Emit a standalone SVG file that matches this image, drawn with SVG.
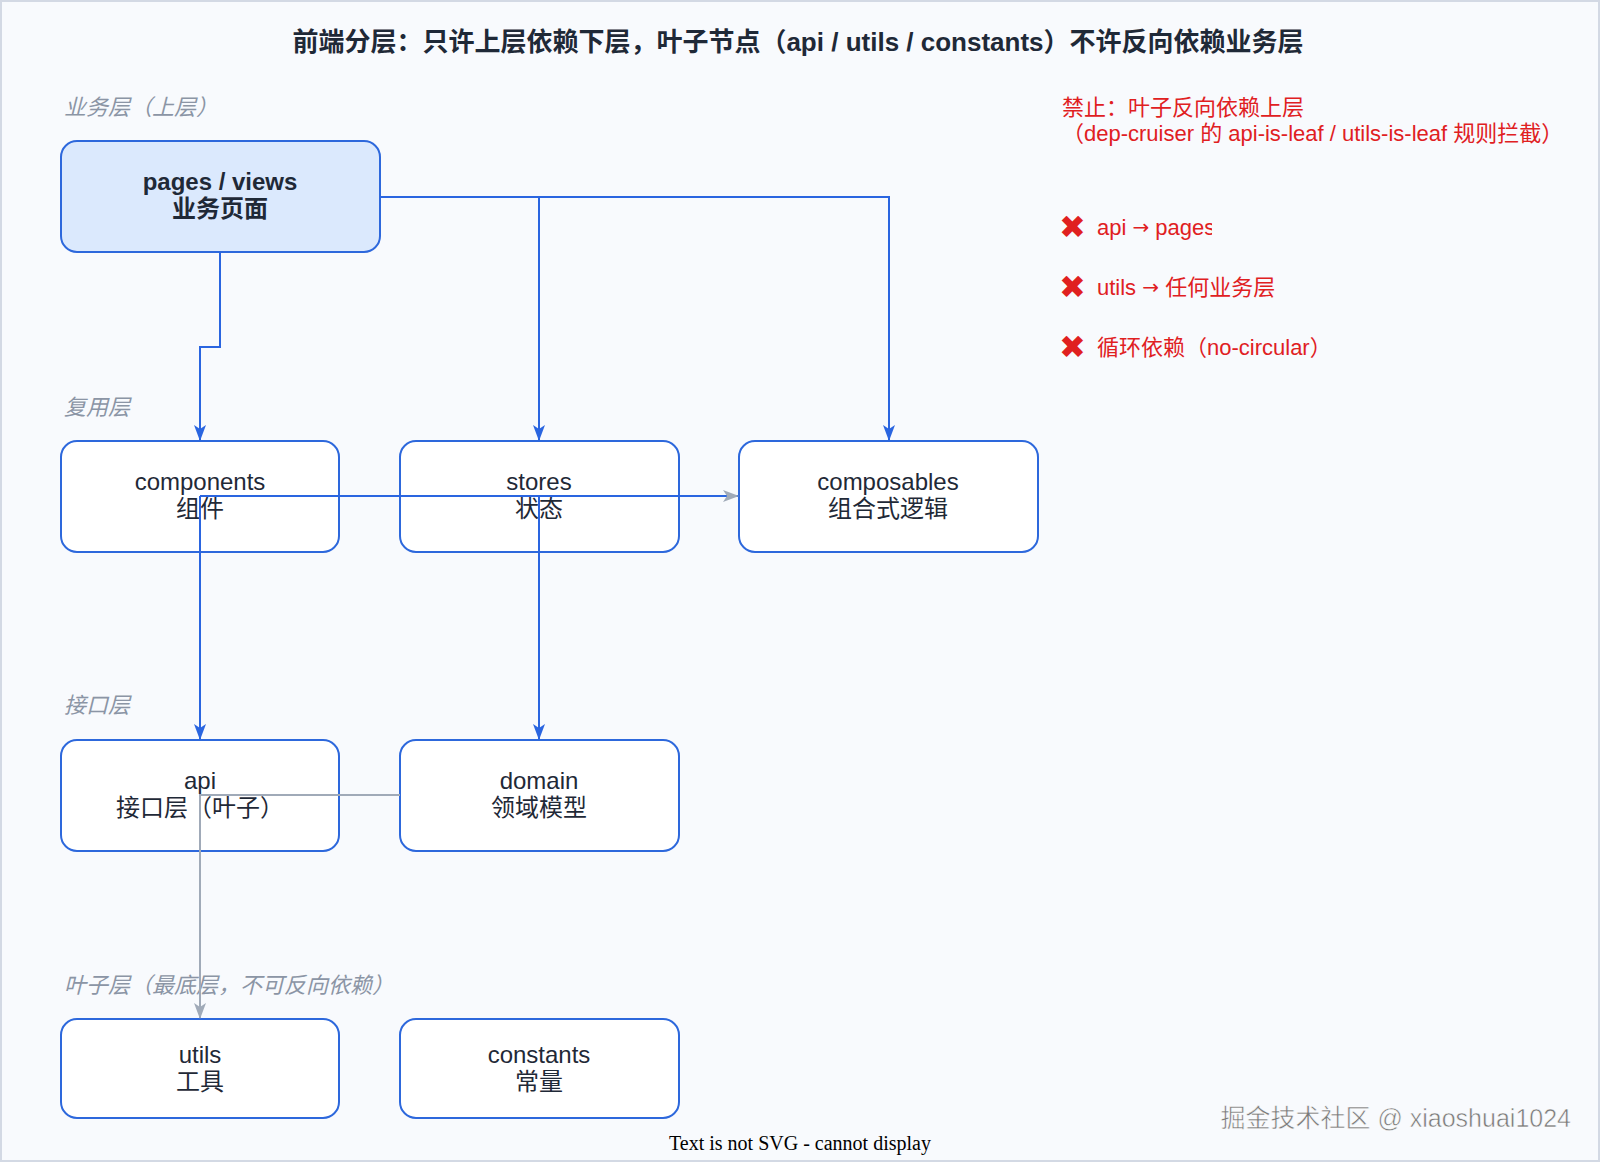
<svg xmlns="http://www.w3.org/2000/svg" width="1600" height="1162" viewBox="0 0 1600 1162">
<defs>
<style>
.node rect{fill:#ffffff;stroke:#2d68dc;stroke-width:2}
.node.top rect{fill:#dbe9fd}
.lbl{font-family:"Liberation Sans","Noto Sans CJK SC",sans-serif;font-size:24px;fill:#1f2937;text-anchor:middle;dominant-baseline:central}
.bold{font-weight:bold}
.layer{font-family:"Liberation Sans","Noto Sans CJK SC",sans-serif;font-size:22px;font-style:italic;fill:#8b95a5;dominant-baseline:central}
.red{font-family:"Liberation Sans","Noto Sans CJK SC",sans-serif;font-size:22px;fill:#e0201f;dominant-baseline:central}
.arr{font-family:"DejaVu Sans",sans-serif;font-size:20px}
.xm{font-family:"DejaVu Sans",sans-serif;font-size:32px;fill:#e0201f;font-weight:bold;dominant-baseline:central}
.edge{fill:none;stroke:#2a65e0;stroke-width:2}
.edge.gray{stroke:#a0aab8}
</style>
<marker id="ab" viewBox="0 0 16 12" refX="15" refY="6" markerWidth="16" markerHeight="12" markerUnits="userSpaceOnUse" orient="auto">
<path d="M0,0 L16,6 L0,12 L4,6 Z" fill="#2a65e0"/>
</marker>
<marker id="ag" viewBox="0 0 16 12" refX="15" refY="6" markerWidth="16" markerHeight="12" markerUnits="userSpaceOnUse" orient="auto">
<path d="M0,0 L16,6 L0,12 L4,6 Z" fill="#a0aab8"/>
</marker>
<clipPath id="clip1"><rect x="1090" y="205" width="122" height="45"/></clipPath>
</defs>
<rect x="1" y="1" width="1598" height="1160" fill="#f8fafd" stroke="#d3d9e4" stroke-width="2"/>
<text x="798" y="42" font-family="'Liberation Sans','Noto Sans CJK SC',sans-serif" font-size="26" font-weight="bold" fill="#1f2937" text-anchor="middle" dominant-baseline="central">前端分层：只许上层依赖下层，叶子节点（api / utils / constants）不许反向依赖业务层</text>
<text class="layer" x="64" y="107">业务层（上层）</text>
<text class="layer" x="64" y="407">复用层</text>
<text class="layer" x="64" y="705">接口层</text>
<text class="layer" x="64" y="985">叶子层（最底层，不可反向依赖）</text>
<text class="red" x="1062" y="107">禁止：叶子反向依赖上层</text>
<text class="red" x="1062" y="133">（dep-cruiser 的 api-is-leaf / utils-is-leaf 规则拦截）</text>
<text class="xm" x="1059" y="227">✖</text>
<text class="red" x="1097" y="227" clip-path="url(#clip1)">api <tspan class="arr">→</tspan> pages</text>
<text class="xm" x="1059" y="287">✖</text>
<text class="red" x="1097" y="287">utils <tspan class="arr">→</tspan> 任何业务层</text>
<text class="xm" x="1059" y="347">✖</text>
<text class="red" x="1097" y="347">循环依赖（no-circular）</text>
<g id="node-pages" class="node top"><rect x="61" y="141" width="319" height="111" rx="16"/><text class="lbl bold"><tspan x="220" y="181">pages / views</tspan><tspan x="220" y="208">业务页面</tspan></text></g>
<g id="node-components" class="node"><rect x="61" y="441" width="278" height="111" rx="16"/><text class="lbl"><tspan x="200" y="481">components</tspan><tspan x="200" y="508">组件</tspan></text></g>
<g id="node-stores" class="node"><rect x="400" y="441" width="279" height="111" rx="16"/><text class="lbl"><tspan x="539" y="481">stores</tspan><tspan x="539" y="508">状态</tspan></text></g>
<g id="node-composables" class="node"><rect x="739" y="441" width="299" height="111" rx="16"/><text class="lbl"><tspan x="888" y="481">composables</tspan><tspan x="888" y="508">组合式逻辑</tspan></text></g>
<g id="node-api" class="node"><rect x="61" y="740" width="278" height="111" rx="16"/><text class="lbl"><tspan x="200" y="780">api</tspan><tspan x="200" y="807">接口层（叶子）</tspan></text></g>
<g id="node-domain" class="node"><rect x="400" y="740" width="279" height="111" rx="16"/><text class="lbl"><tspan x="539" y="780">domain</tspan><tspan x="539" y="807">领域模型</tspan></text></g>
<g id="node-utils" class="node"><rect x="61" y="1019" width="278" height="99" rx="16"/><text class="lbl"><tspan x="200" y="1054">utils</tspan><tspan x="200" y="1081">工具</tspan></text></g>
<g id="node-constants" class="node"><rect x="400" y="1019" width="279" height="99" rx="16"/><text class="lbl"><tspan x="539" y="1054">constants</tspan><tspan x="539" y="1081">常量</tspan></text></g>
<g id="connectors">
<path class="edge" d="M220,252 V347 H200 V440" marker-end="url(#ab)"/>
<path class="edge" d="M380,197 H539 V440" marker-end="url(#ab)"/>
<path class="edge" d="M539,197 H889 V440" marker-end="url(#ab)"/>
<path class="edge" d="M200,496 H738" marker-end="url(#ag)"/>
<path class="edge" d="M200,496 V739" marker-end="url(#ab)"/>
<path class="edge" d="M539,496 V739" marker-end="url(#ab)"/>
<path class="edge gray" d="M400,795 H200 V1018" marker-end="url(#ag)"/>
</g>
<text x="1571" y="1118" font-family="'Liberation Sans','Noto Sans CJK SC',sans-serif" font-size="25" fill="#7a7a7a" stroke="#ffffff" stroke-width="0.5" text-anchor="end" dominant-baseline="central">掘金技术社区 @ xiaoshuai1024</text>
<text x="669" y="1150" font-family="'Liberation Serif',serif" font-size="20" fill="#000000">Text is not SVG - cannot display</text>
</svg>
